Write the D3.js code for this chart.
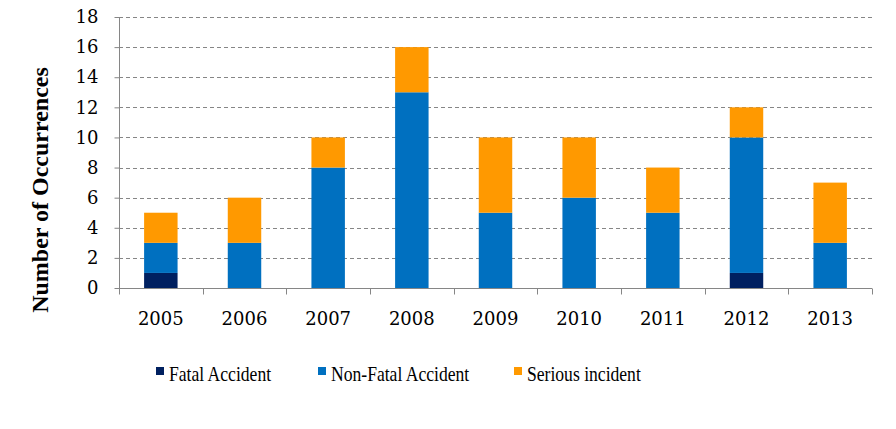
<!DOCTYPE html>
<html>
<head>
<meta charset="utf-8">
<script src="https://cdn.jsdelivr.net/npm/d3@7"></script>
<style>
  body { margin: 0; background: #fff; }
  text { font-family: "DejaVu Serif", "Liberation Serif", serif; fill: #000; }
</style>
</head>
<body>
<svg id="chart" width="896" height="429"></svg>
<script>
// occurrences per year, stacked by type
var years = ["2005", "2006", "2007", "2008", "2009", "2010", "2011", "2012", "2013"]
var fatal = [1, 0, 0, 0, 0, 0, 0, 1, 0]
var nonFatal = [2, 3, 8, 13, 5, 6, 5, 9, 3]
var serious = [2, 3, 2, 3, 5, 4, 3, 2, 4]
var seriesNames = ["Fatal Accident", "Non-Fatal Accident", "Serious incident"]
var seriesColors = ["#002060", "#0070C0", "#FF9900"]
var yTicks = [0, 2, 4, 6, 8, 10, 12, 14, 16, 18]

var svg = d3.select("#chart")
var plotL = 119, plotR = 872, plotT = 17, plotB = 288

var x = d3.scaleBand().domain(years).range([plotL, plotR]).paddingInner(0.6).paddingOuter(0.3)
var y = d3.scaleLinear().domain([0, 18]).range([plotB, plotT])

var rows = years.map(function(yr, i) {
    return { year: yr, f: fatal[i], n: nonFatal[i], s: serious[i] }
})
var stack = d3.stack().keys(["f", "n", "s"])(rows)

// gridlines
svg.append("g").selectAll("line")
    .data(yTicks.slice(1))
    .enter().append("line")
    .attr("x1", plotL).attr("x2", plotR)
    .attr("y1", function(d) { return Math.round(y(d)) + 0.5 })
    .attr("y2", function(d) { return Math.round(y(d)) + 0.5 })
    .attr("stroke", "#868686")
    .attr("stroke-dasharray", "4,3")

// bars
svg.append("g").selectAll("g")
    .data(stack)
    .enter().append("g")
    .attr("fill", function(d, i) { return seriesColors[i] })
    .selectAll("rect")
    .data(function(d) { return d })
    .enter().append("rect")
    .attr("x", function(d) { return x(d.data.year) })
    .attr("width", x.bandwidth())
    .attr("y", function(d) { return y(d[1]) })
    .attr("height", function(d) { return y(d[0]) - y(d[1]) })

// y axis
var yAxis = svg.append("g")
    .attr("transform", "translate(" + (plotL + 0.5) + ",0)")
    .call(d3.axisLeft(y).tickValues(yTicks).tickSize(5).tickPadding(16))
yAxis.attr("font-family", null)
yAxis.select(".domain").attr("stroke", "#868686").attr("d", "M0," + plotT + "V" + (plotB + 0.5))
yAxis.selectAll(".tick line").attr("stroke", "#868686")
yAxis.selectAll("text").attr("font-size", 18).attr("fill", "#000")

// x axis with ticks at category boundaries
var xg = svg.append("g").attr("transform", "translate(0," + (plotB + 0.5) + ")")
xg.append("line").attr("x1", plotL).attr("x2", plotR).attr("stroke", "#868686")
var bounds = d3.range(years.length + 1).map(function(i) { return plotL + i * (plotR - plotL) / years.length })
xg.selectAll(".bt").data(bounds).enter().append("line")
    .attr("x1", function(d) { return Math.round(d) + 0.5 })
    .attr("x2", function(d) { return Math.round(d) + 0.5 })
    .attr("y1", 0).attr("y2", 6)
    .attr("stroke", "#868686")
xg.selectAll("text").data(years).enter().append("text")
    .attr("x", function(d) { return x(d) + x.bandwidth() / 2 })
    .attr("y", 36)
    .attr("text-anchor", "middle")
    .attr("font-size", 18)
    .text(function(d) { return d })

// y title
svg.append("text")
    .attr("transform", "translate(48,190) rotate(-90)")
    .attr("text-anchor", "middle")
    .attr("font-size", 24)
    .attr("font-weight", "bold")
    .style("font-family", "'Liberation Serif', serif")
    .text("Number of Occurrences")

// legend
var legendX = [156, 318, 514]
var lg = svg.append("g").selectAll("g")
    .data(seriesNames)
    .enter().append("g")
    .attr("transform", function(d, i) { return "translate(" + legendX[i] + ",367)" })
lg.append("rect").attr("width", 8).attr("height", 8)
    .attr("fill", function(d, i) { return seriesColors[i] })
lg.append("text")
    .attr("transform", "translate(13,14) scale(0.8,1)")
    .attr("font-size", 22)
    .style("font-family", "'Liberation Serif', serif")
    .text(function(d) { return d })
</script>
</body>
</html>
